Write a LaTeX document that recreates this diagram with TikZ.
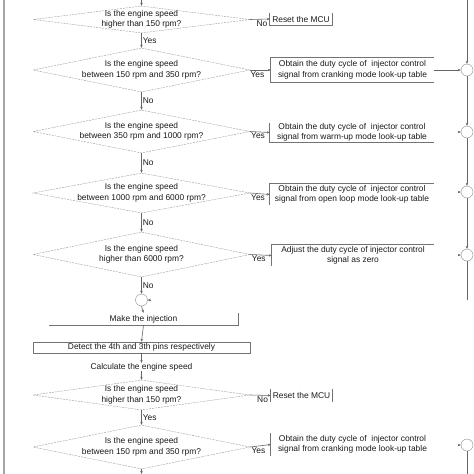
\documentclass[tikz,border=0pt]{standalone}
\usepackage{fontspec}
\setmainfont{Liberation Sans}
\usetikzlibrary{shapes.geometric,arrows.meta}
\begin{document}
\begin{tikzpicture}[x=1pt,y=-1pt,
    txt/.style={font=\fontsize{8.4}{10.5}\selectfont,text=black!90,align=center,inner sep=0pt},
    lbl/.style={font=\fontsize{8.4}{10}\selectfont,text=black!90,inner sep=1pt},
    decision/.style={diamond,draw=black!40,dash pattern=on 2pt off 1pt,minimum width=217pt,minimum height=#1,inner sep=0pt},
    joint/.style={circle,draw=black!45,fill=white,minimum size=12pt,inner sep=0pt},
    flow/.style={draw=black!60,line width=.6pt,-{Stealth[length=3pt,width=2.5pt]}},
    edge/.style={draw=black!55,line width=.7pt}]
  \useasboundingbox (0,0) rectangle (474,474);
  % free ends
  \coordinate (top) at (141.5,0);
  \coordinate (bot) at (141.5,474);
  \coordinate (rtop) at (467,0);
  \coordinate (rend) at (467,300);
  \coordinate (rbot) at (467,474);
  \coordinate (ltop) at (4,0);
  \coordinate (lbot) at (4,474);
  \draw[black!35,line width=1.8pt] (ltop) -- (lbot);

  % decisions
  \node[decision=27pt,label={[txt]center:Is the engine speed\\higher than 150 rpm?}] (d1) at (141.5,19.5) {};
  \node[decision=44pt,label={[txt]center:Is the engine speed\\between 150 rpm and 350 rpm?}] (d2) at (141.5,70) {};
  \node[decision=43pt,label={[txt]center:Is the engine speed\\between 350 rpm and 1000 rpm?}] (d3) at (141.5,131.5) {};
  \node[decision=40pt,label={[txt]center:Is the engine speed\\between 1000 rpm and 6000 rpm?}] (d4) at (141.5,193) {};
  \node[decision=45pt,label={[txt]center:Is the engine speed\\higher than 6000 rpm?}] (d5) at (141.5,254.5) {};
  \node[joint] (c0) at (141.5,300) {};
  \node[txt,minimum width=189pt,minimum height=12pt] (mk) at (143.5,319) {Make the injection};
  \node[txt,draw=black!55,line width=.7pt,minimum width=217pt,minimum height=11pt] (det) at (141.5,347.5) {Detect the 4th and 3th pins respectively};
  \node[txt] (calc) at (141.5,367) {Calculate the engine speed};
  \node[decision=30pt,label={[txt]center:Is the engine speed\\higher than 150 rpm?}] (d6) at (141.5,395) {};
  \node[decision=44pt,label={[txt]center:Is the engine speed\\between 150 rpm and 350 rpm?}] (d7) at (141.5,447) {};

  % actions on the right
  \node[txt,minimum width=62pt,minimum height=12pt] (rst1) at (301,19) {Reset the MCU};
  \node[txt,minimum width=163pt,minimum height=24pt] (b2) at (352.5,70) {Obtain the duty cycle of \ injector control\\signal from cranking mode look-up table};
  \node[txt,minimum width=164pt,minimum height=19pt] (b3) at (352,132.5) {Obtain the duty cycle of \ injector control\\signal from warm-up mode look-up table};
  \node[txt,minimum width=164pt,minimum height=21pt] (b4) at (352,194.5) {Obtain the duty cycle of \ injector control\\signal from open loop mode look-up table};
  \node[txt,minimum width=162pt,minimum height=21pt] (b5) at (353,255.5) {Adjust the duty cycle of injector control\\signal as zero};
  \node[txt,minimum width=61pt,minimum height=13pt] (rst2) at (301.5,395.5) {Reset the MCU};
  \node[txt,minimum width=163pt,minimum height=23pt] (b7) at (352.5,444.5) {Obtain the duty cycle of \ injector control\\signal from cranking mode look-up table};

  % box edges
  \draw[edge] (rst1.north west) -- (rst1.south west) -- (rst1.south east) -- (rst1.north east);
  \draw[edge] (b2.north east) -- (b2.north west) -- (b2.south west) -- (b2.south east);
  \draw[edge] (b3.north west) -- (b3.south west) -- (b3.south east);
  \draw[edge] (b4.south west) -- (b4.north west) -- (b4.north east);
  \draw[edge] (b5.south west) -- (b5.north west) -- (b5.north east);
  \draw[edge] (mk.south west) -- (mk.south east) -- (mk.north east);
  \draw[edge] (rst2.north west) -- (rst2.south west);
  \draw[edge] (rst2.north east) -- (rst2.south east);
  \draw[edge] (b7.north west) -- (b7.south west);

  % junctions on the right
  \node[joint] (r1) at (467,70) {};
  \node[joint] (r2) at (467,132) {};
  \node[joint] (r3) at (467,192) {};
  \node[joint] (r4) at (467,255) {};
  \node[joint] (r5) at (467,445) {};

  % main flow
  \draw[flow] (top) -- (d1.north);
  \draw[flow] (d1.south) -- node[lbl,right]{Yes} (d2.north);
  \draw[flow] (d2.south) -- node[lbl,right]{No} (d3.north);
  \draw[flow] (d3.south) -- node[lbl,right]{No} (d4.north);
  \draw[flow] (d4.south) -- node[lbl,right]{No} (d5.north);
  \draw[flow] (d5.south) -- node[lbl,right]{No} (c0.north);
  \draw[flow] (c0.south) -- (mk.north);
  \draw[flow] (mk.south) -- (det.north);
  \draw[flow] (det.south) -- (calc.north);
  \draw[flow] (calc.south) -- (d6.north);
  \draw[flow] (d6.south) -- node[lbl,right]{Yes} (d7.north);
  \draw[flow] (d7.south) -- (bot);

  % branches
  \draw[flow] (d1.east) -- node[lbl,below,pos=.6]{No} (rst1.west);
  \draw[flow] (d2.east) -- node[lbl,below,pos=.35]{Yes} (b2.west);
  \draw[flow] (d3.east) -- node[lbl,below,pos=.4]{Yes} (b3.west);
  \draw[flow] (d4.east) -- node[lbl,below,pos=.4]{Yes} (b4.west);
  \draw[flow] (d5.east) -- node[lbl,below,pos=.4]{Yes} (b5.west);
  \draw[flow] (d6.east) -- node[lbl,below,pos=.6]{No} (rst2.west);
  \draw[flow] (d7.east) -- node[lbl,below,pos=.4]{Yes} (b7.west);

  % right line
  \draw[flow] (b2.east) -- (r1.west);
  \draw[flow] (rtop) -- (r1.north);
  \draw[flow] (r1.south) -- (r2.north);
  \draw[flow] (r2.south) -- (r3.north);
  \draw[flow] (r3.south) -- (r4.north);
  \draw[draw=black!60,line width=.6pt] (r4.south) -- (rend);
  \draw[draw=black!60,line width=.6pt] (r5.south) -- (rbot);
  \draw[flow] ([xshift=-3pt]r2.west) -- (r2.west);
  \draw[flow] ([xshift=-3pt]r3.west) -- (r3.west);
  \draw[flow] ([xshift=-3pt]r4.west) -- (r4.west);
  \draw[flow] ([xshift=-3pt]r5.west) -- (r5.west);
  \draw[flow] ([xshift=3pt]c0.east) -- (c0.east);
\end{tikzpicture}
\end{document}
